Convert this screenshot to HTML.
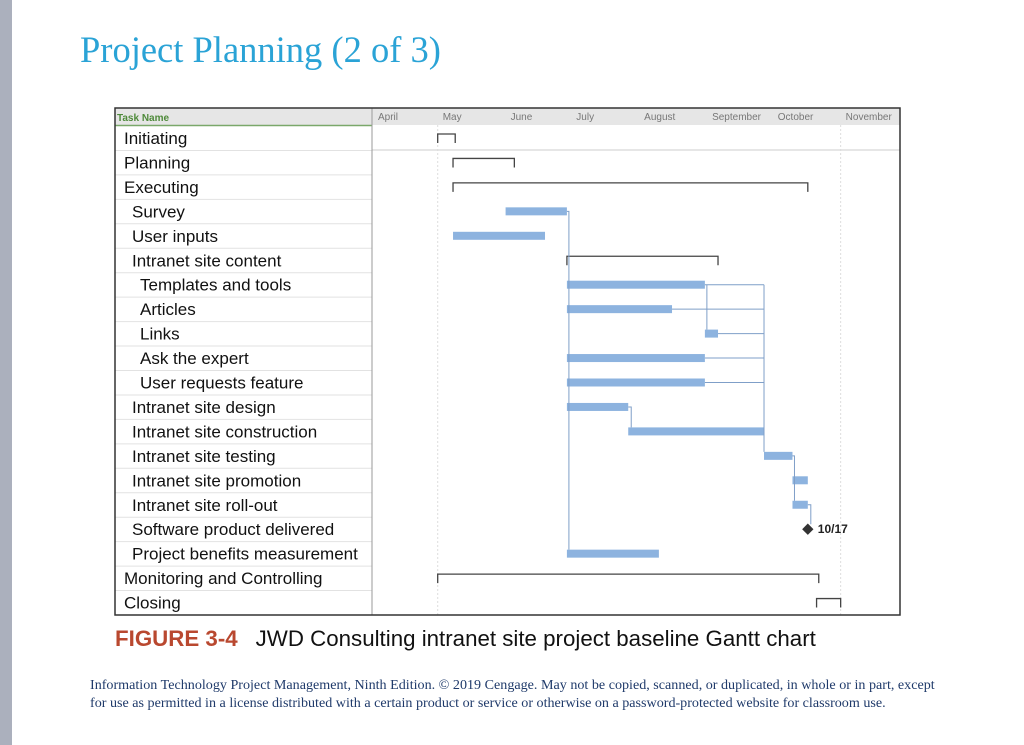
<!DOCTYPE html>
<html><head><meta charset="utf-8">
<style>
body{margin:0;width:1024px;height:745px;background:#fff;position:relative;overflow:hidden;font-family:"Liberation Sans",sans-serif}
#strip{position:absolute;left:0;top:0;width:12px;height:745px;background:#abb0bd}
#title{position:absolute;left:80px;top:28px;font:36.5px "Liberation Serif",serif;color:#2aa3d6}
#cap{position:absolute;left:115px;top:626px;font-size:22.3px;color:#111}
#cap b{color:#b9482f;margin-right:18px}
#foot{position:absolute;left:90px;top:676px;font:14.1px/18px "Liberation Serif",serif;color:#1f3a6a;white-space:nowrap}
</style></head><body>
<div id="strip"></div>
<div id="title">Project Planning (2 of 3)</div>
<svg id="chart" width="1024" height="745" style="position:absolute;left:0;top:0"></svg>
<div id="cap"><b>FIGURE 3-4</b>JWD Consulting intranet site project baseline Gantt chart</div>
<div id="foot">Information Technology Project Management, Ninth Edition. © 2019 Cengage. May not be copied, scanned, or duplicated, in whole or in part, except<br>for use as permitted in a license distributed with a certain product or service or otherwise on a password-protected website for classroom use.</div>
<script>
const tasks=["Initiating","Planning","Executing","Survey","User inputs","Intranet site content","Templates and tools","Articles","Links","Ask the expert","User requests feature","Intranet site design","Intranet site construction","Intranet site testing","Intranet site promotion","Intranet site roll-out","Software product delivered","Project benefits measurement","Monitoring and Controlling","Closing"];
const indent=[0,0,0,1,1,1,2,2,2,2,2,1,1,1,1,1,1,1,0,0];
const kind=["sum","sum","sum","bar","bar","sum","bar","bar","bar","bar","bar","bar","bar","bar","bar","bar","ms","bar","sum","sum"];
const startDay=[30,37,37,61,37,89,89,89,152,89,89,89,117,179,192,192,199,89,30,203];
const endDay=[38,65,199,89,79,158,152,137,158,152,152,117,179,192,199,199,199,131,204,214];
const months=["April","May","June","July","August","September","October","November"];
const monthStart=[0,30,61,91,122,153,183,214];
const svg=document.getElementById('chart');const NS="http://www.w3.org/2000/svg";
function mk(t,a,p){const e=document.createElementNS(NS,t);for(const k in a)e.setAttribute(k,a[k]);(p||svg).appendChild(e);return e;}
const X0=372,K=2.19,Y0=126,RH=24.45;
const xs=d=>X0+d*K, yc=i=>Y0+RH*i+12;
let e;
e=mk('rect',{x:115,y:125,width:257,height:490,fill:'#fff'});

e=mk('rect',{x:115,y:108,width:785,height:17,fill:'#e6e6e6'});

e=mk('text',{x:117,y:121,'font-size':10,fill:'#4e8a3a','font-weight':'bold'});e.textContent='Task Name';

mk('line',{x1:115,y1:125.5,x2:372,y2:125.5,stroke:'#7aa86a','stroke-width':1.5});
mk('line',{x1:372,y1:150,x2:900,y2:150,stroke:'#ccc'});
months.forEach((m,i)=>{e=mk('text',{x:xs(monthStart[i])+(i==0?6:5),y:120,'font-size':10,fill:'#777'});e.textContent=m;
});
[30,214].forEach(d=>mk('line',{x1:xs(d),y1:125,x2:xs(d),y2:615,stroke:'#ddd','stroke-dasharray':'2,2'}));
tasks.forEach((t,i)=>{
 mk('line',{x1:115,y1:Y0+RH*(i+1),x2:372,y2:Y0+RH*(i+1),stroke:'#e2e2e2'});
 e=mk('text',{x:124+indent[i]*8,y:yc(i)+6,'font-size':17,fill:'#111'});e.textContent=t;
 
});
mk('line',{x1:372,y1:108,x2:372,y2:615,stroke:'#999'});
mk('rect',{x:115,y:108,width:785,height:507,fill:'none',stroke:'#333','stroke-width':1.5});
tasks.forEach((t,i)=>{
 const a=xs(startDay[i]),b=xs(endDay[i]),y=yc(i);
 if(kind[i]=='sum'){
  e=mk('path',{d:`M${a},${y+5}V${y-4}H${b}V${y+5}`,fill:'none',stroke:'#444','stroke-width':1.3});
  
 }else if(kind[i]=='bar'){
  e=mk('rect',{x:a,y:y-4,width:b-a,height:8,fill:'#8db3df'});
  
 }else{
  e=mk('rect',{x:a-4,y:y-4,width:8,height:8,fill:'#333',transform:`rotate(45 ${a} ${y})`});
  
  e=mk('text',{x:a+10,y:y+4,'font-size':12,'font-weight':'bold',fill:'#222'});e.textContent='10/17';
  
 }
});
const L='#7f9fc8';
mk('path',{d:`M${xs(endDay[3])},${yc(3)}H${xs(endDay[3])+2}V${yc(17)-4}`,fill:'none',stroke:L});
[6,7,8,9,10].forEach(i=>mk('path',{d:`M${xs(endDay[i])},${yc(i)}H${xs(endDay[12])}`,fill:'none',stroke:L}));
mk('path',{d:`M${xs(endDay[12])},${yc(6)}V${yc(13)-4}`,fill:'none',stroke:L});
mk('path',{d:`M${xs(endDay[6])+2},${yc(6)}V${yc(8)-4}`,fill:'none',stroke:L});
mk('path',{d:`M${xs(endDay[11])},${yc(11)}H${xs(endDay[11])+3}V${yc(12)-4}`,fill:'none',stroke:L});
mk('path',{d:`M${xs(endDay[13])},${yc(13)}H${xs(endDay[13])+2}V${yc(15)-4}`,fill:'none',stroke:L});
mk('path',{d:`M${xs(endDay[15])},${yc(15)}H${xs(endDay[15])+3}V${yc(16)-5}`,fill:'none',stroke:L});
</script>
</body></html>
